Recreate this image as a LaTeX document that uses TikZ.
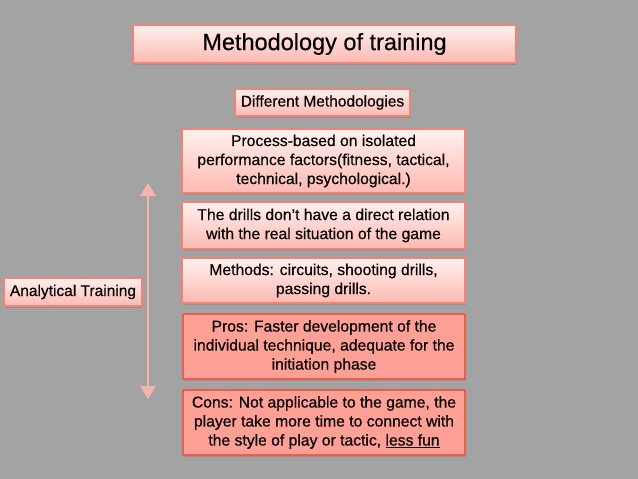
\documentclass[tikz,border=0pt]{standalone}
\usepackage{fontspec}
\setmainfont{Liberation Sans}[FakeBold=0.35]
\usetikzlibrary{shadows,arrows.meta}
\definecolor{bg}{HTML}{A3A3A3}
\definecolor{lightborder}{HTML}{EE8478}
\definecolor{darkborder}{HTML}{E5604F}
\definecolor{lighttop}{HTML}{FFF0EE}
\definecolor{lightbot}{HTML}{FFB9B1}
\definecolor{darkfill}{HTML}{FFA096}
\definecolor{arrowpink}{HTML}{F6B3AB}
\tikzset{
  x=1pt, y=-1pt,
  lightbox/.style={draw=lightborder, line width=1.2pt, top color=lighttop, bottom color=lightbot,
    drop shadow={shadow xshift=1pt, shadow yshift=-2pt, opacity=0.45}, align=center, inner sep=0pt, text=black},
  darkbox/.style={draw=darkborder, line width=1.5pt, fill=darkfill,
    drop shadow={shadow xshift=1pt, shadow yshift=-2pt, opacity=0.45}, align=center, inner sep=0pt, text=black},
  bodyfont/.style={font=\fontsize{15.7}{19}\selectfont},
  smallfont/.style={font=\fontsize{15.5}{18}\selectfont},
}
\begin{document}
\begin{tikzpicture}
\fill[bg] (0,0) rectangle (638,479);
\useasboundingbox (0,0) rectangle (638,479);
\node[lightbox, minimum width=383pt, minimum height=38pt, font=\fontsize{23.5}{27}\selectfont] (title) at (324.5,44) {Methodology of training};
\node[lightbox, smallfont, minimum width=175pt, minimum height=27pt] (dm) at (322.5,102.5) {Different Methodologies};
\node[lightbox, bodyfont, minimum width=283pt, minimum height=64pt] (b1) at (323.5,161) {Process-based on isolated\\performance factors(fitness, tactical,\\technical, psychological.)};
\node[lightbox, bodyfont, minimum width=283pt, minimum height=47pt] (b2) at (323.5,225.5) {The drills don't have a direct relation\\with the real situation of the game};
\node[lightbox, bodyfont, minimum width=283pt, minimum height=45pt] (b3) at (323.5,280.5) {Methods: circuits, shooting drills,\\passing drills.};
\node[darkbox, bodyfont, minimum width=282pt, minimum height=65pt] (b4) at (324,346.5) {Pros: Faster development of the\\individual technique, adequate for the\\initiation phase};
\node[darkbox, bodyfont, minimum width=282pt, minimum height=65pt] (b5) at (324,422.5) {Cons: Not applicable to the game, the\\player take more time to connect with\\the style of play or tactic, \underline{less fun}};
\node[lightbox, smallfont, minimum width=138pt, minimum height=28pt] (at) at (73,292) {Analytical Training};
\coordinate (atop) at (148,183);
\coordinate (abot) at (148,399);
\draw[arrowpink, line width=2.8pt, {Triangle[width=15pt,length=13pt]}-{Triangle[width=15pt,length=13pt]}] (atop) -- (abot);
\end{tikzpicture}
\end{document}
